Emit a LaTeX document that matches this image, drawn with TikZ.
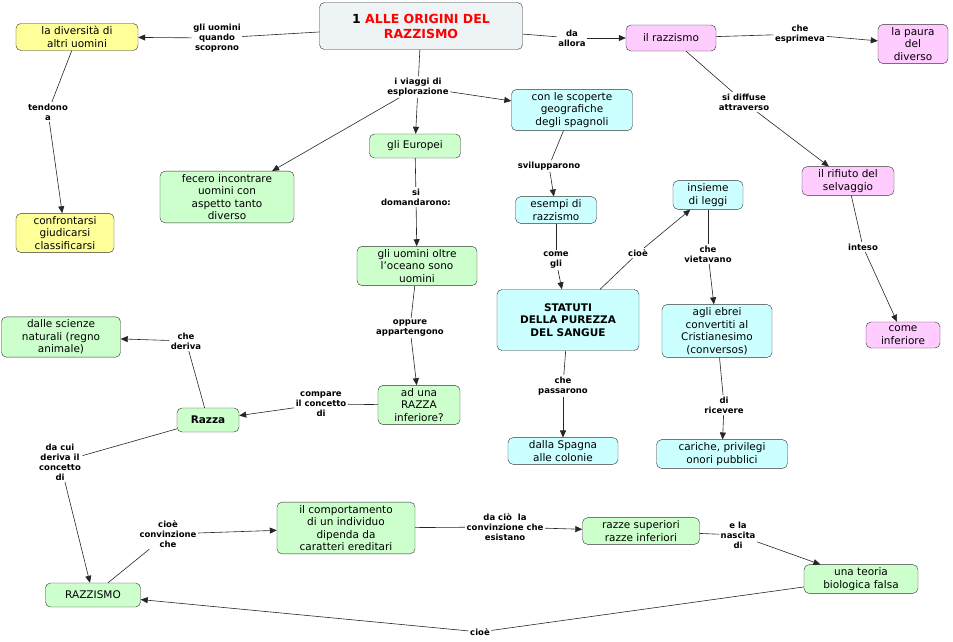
\documentclass[tikz,border=0pt]{standalone}
\usepackage{fontspec}
\setmainfont{DejaVu Sans}
\usetikzlibrary{arrows.meta}
\definecolor{cy}{HTML}{FFFF99}
\definecolor{cp}{HTML}{FFCCFF}
\definecolor{cc}{HTML}{CCFFFF}
\definecolor{cg}{HTML}{CCFFCC}
\definecolor{ct}{HTML}{EEF3F5}
\begin{document}
\begin{tikzpicture}[x=1pt,y=-1pt,
 box/.style={draw=black!80,rounded corners=5pt,align=center,font=\fontsize{10.5}{12.5}\selectfont,inner sep=3pt,minimum height=26pt},
 Y/.style={box,fill=cy},P/.style={box,fill=cp},C/.style={box,fill=cc},G/.style={box,fill=cg},
 lab/.style={align=center,font=\bfseries\fontsize{8.5}{10}\selectfont,inner sep=1.5pt},
 ln/.style={draw=black!85,line width=0.6pt},
 ar/.style={ln,-{Triangle[length=7pt,width=6pt]}}]
\useasboundingbox (0,0) rectangle (953,641);
\node[box,fill=ct,minimum width=203pt,minimum height=47pt,font=\bfseries\fontsize{12.5}{15}\selectfont] (t) at (421,26) {1 \textcolor{red}{ALLE ORIGINI DEL}\\\textcolor{red}{RAZZISMO}};
\node[Y,minimum width=122pt] (div) at (77,37) {la diversità di\\altri uomini};
\node[Y,minimum width=98pt] (conf) at (65,233) {confrontarsi\\giudicarsi\\classificarsi};
\node[P,minimum width=90pt] (raz) at (671,38) {il razzismo};
\node[P,minimum width=70pt] (pau) at (913,44) {la paura\\del\\diverso};
\node[P,minimum width=92pt] (rif) at (848,181) {il rifiuto del\\selvaggio};
\node[P,minimum width=74pt] (inf) at (903,335) {come\\inferiore};
\node[C,minimum width=121pt] (sco) at (572,110) {con le scoperte\\geografiche\\degli spagnoli};
\node[C,minimum width=81pt] (ese) at (556,210) {esempi di\\razzismo};
\node[C,minimum width=70pt] (ins) at (708,195) {insieme\\di leggi};
\node[C,minimum width=142pt,minimum height=61pt,font=\bfseries\fontsize{10.5}{12.5}\selectfont] (sta) at (568,320) {STATUTI\\DELLA PUREZZA\\DEL SANGUE};
\node[C,minimum width=110pt] (spa) at (563,451) {dalla Spagna\\alle colonie};
\node[C,minimum width=110pt] (ebr) at (717,331) {agli ebrei\\convertiti al\\Cristianesimo\\(conversos)};
\node[C,minimum width=131pt] (car) at (722,454) {cariche, privilegi\\onori pubblici};
\node[G,minimum width=91pt,minimum height=24pt] (eur) at (415,146) {gli Europei};
\node[G,minimum width=134pt] (fec) at (227,197) {fecero incontrare\\uomini con\\aspetto tanto\\diverso};
\node[G,minimum width=120pt] (olt) at (417,266) {gli uomini oltre\\l'oceano sono\\uomini};
\node[G,minimum width=82pt] (ad) at (419,405) {ad una\\RAZZA\\inferiore?};
\node[G,minimum width=62pt,minimum height=24pt,font=\bfseries\fontsize{10.5}{12.5}\selectfont] (Raz) at (208,420) {Razza};
\node[G,minimum width=119pt] (sci) at (61,337) {dalle scienze\\naturali (regno\\animale)};
\node[G,minimum width=95pt,minimum height=24pt] (RZ) at (93,595) {RAZZISMO};
\node[G,minimum width=138pt] (com) at (346,528) {il comportamento\\di un individuo\\dipenda da\\caratteri ereditari};
\node[G,minimum width=117pt] (sup) at (641,531) {razze superiori\\razze inferiori};
\node[G,minimum width=114pt] (teo) at (861,579) {una teoria\\biologica falsa};
% labels
\node[lab] (l1) at (217,38) {gli uomini\\quando\\scoprono};
\node[lab] (l2) at (572,38) {da\\allora};
\node[lab] (l3) at (800,34) {che\\esprimeva};
\node[lab] (l4) at (744,102) {si diffuse\\attraverso};
\node[lab] (l5) at (418,87) {i viaggi di\\esplorazione};
\node[lab] (l6) at (48,112) {tendono\\a};
\node[lab] (l7) at (549,166) {svilupparono};
\node[lab] (l8) at (416,197) {si\\domandarono:};
\node[lab] (l9) at (556,260) {come\\gli};
\node[lab] (l10) at (638,253) {cioè};
\node[lab] (l11) at (708,254) {che\\vietavano};
\node[lab] (l12) at (863,247) {inteso};
\node[lab] (l13) at (410,328) {oppure\\appartengono};
\node[lab] (l14) at (186,341) {che\\deriva};
\node[lab] (l15) at (321,404) {compare\\il concetto\\di};
\node[lab] (l16) at (563,386) {che\\passarono};
\node[lab] (l17) at (724,405) {di\\ricevere};
\node[lab] (l18) at (60,462) {da cui\\deriva il\\concetto\\di};
\node[lab] (l19) at (168,534) {cioè\\convinzione\\che};
\node[lab] (l20) at (505,527) {da ciò\ \ la\\convinzione che\\esistano};
\node[lab] (l21) at (738,535) {e la\\nascita\\di};
\node[lab] (l22) at (480,632) {cioè};
% connectors
\draw[ln] (t) -- (l1); \draw[ar] (l1) -- (div);
\draw[ln] (t) -- (l2); \draw[ar] (l2) -- (raz);
\draw[ln] (raz) -- (l3); \draw[ar] (l3) -- (pau);
\draw[ln] (raz) -- (l4); \draw[ar] (l4) -- (rif);
\draw[ln] (t) -- (l5); \draw[ar] (l5) -- (sco); \draw[ar] (l5) -- (eur); \draw[ar] (l5) -- (fec);
\draw[ln] (div) -- (l6); \draw[ar] (l6) -- (conf);
\draw[ln] (sco) -- (l7); \draw[ar] (l7) -- (ese);
\draw[ln] (ese) -- (l9); \draw[ar] (l9) -- (sta);
\draw[ln] (sta) -- (l10); \draw[ar] (l10) -- (ins);
\draw[ln] (ins) -- (l11); \draw[ar] (l11) -- (ebr);
\draw[ln] (ebr) -- (l17); \draw[ar] (l17) -- (car);
\draw[ln] (sta) -- (l16); \draw[ar] (l16) -- (spa);
\draw[ln] (rif) -- (l12); \draw[ar] (l12) -- (inf);
\draw[ln] (eur) -- (l8); \draw[ar] (l8) -- (olt);
\draw[ln] (olt) -- (l13); \draw[ar] (l13) -- (ad);
\draw[ln] (ad) -- (l15); \draw[ar] (l15) -- (Raz);
\draw[ln] (Raz) -- (l14); \draw[ar] (l14) -- (sci);
\draw[ln] (Raz) -- (l18); \draw[ar] (l18) -- (RZ);
\draw[ln] (RZ) -- (l19); \draw[ar] (l19) -- (com);
\draw[ln] (com) -- (l20); \draw[ar] (l20) -- (sup);
\draw[ln] (sup) -- (l21); \draw[ar] (l21) -- (teo);
\draw[ln] (teo) -- (l22); \draw[ar] (l22) -- (RZ);
\end{tikzpicture}
\end{document}
